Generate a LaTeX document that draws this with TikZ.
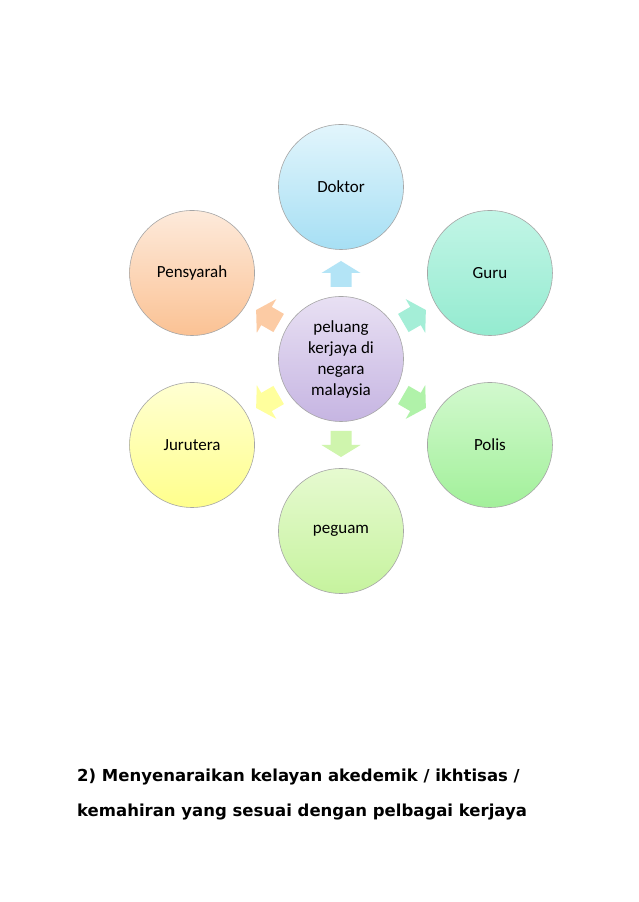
\documentclass[tikz,border=0pt]{standalone}
\usepackage{fontspec}
\setmainfont{Carlito}
\newfontfamily\headfont{DejaVu Sans}
\usetikzlibrary{calc}

% colours of the bubbles (top / bottom of the gradient)
\definecolor{doktorTop}{HTML}{E2F5FC}
\definecolor{doktorBot}{HTML}{A6DFF4}
\definecolor{guruTop}{HTML}{C2F5E6}
\definecolor{guruBot}{HTML}{94EBD0}
\definecolor{polisTop}{HTML}{D2F9CE}
\definecolor{polisBot}{HTML}{A2F09A}
\definecolor{peguamTop}{HTML}{E6FAD0}
\definecolor{peguamBot}{HTML}{C6F39E}
\definecolor{juruTop}{HTML}{FFFFD2}
\definecolor{juruBot}{HTML}{FFFF8C}
\definecolor{pensyTop}{HTML}{FDEADB}
\definecolor{pensyBot}{HTML}{FBC294}
\definecolor{hubTop}{HTML}{E8E0F3}
\definecolor{hubBot}{HTML}{C6B5E2}

\newcommand{\ringradius}{172}
\newcommand{\bubble}[6]{%
    % #1 name, #2 angle, #3 top colour, #4 bottom colour, #5 arrow colour, #6 text
    \node[careerbubble, top color=#3, bottom color=#4] (#1)
        at ($(hub)+(#2:\ringradius)$) {#6};%
    \begin{scope}[shift={(hub)}, rotate=#2]
        \fill[#5] (72,-10.5) -- (86,-10.5) -- (86,-19.5) -- (98,0)
            -- (86,19.5) -- (86,10.5) -- (72,10.5) -- cycle;
    \end{scope}%
}

\begin{document}
\begin{tikzpicture}[x=1pt, y=1pt,
    careerbubble/.style={circle, minimum size=125pt, inner sep=0pt,
        draw=black!35, line width=0.6pt, shading angle=0,
        font=\fontsize{17}{21}\selectfont, align=center},
    heading/.style={anchor=base west, inner sep=0pt,
        font=\headfont\bfseries\fontsize{16.5}{20}\selectfont}]

    \useasboundingbox (0,0) rectangle (638,902);
    \fill[white] (0,0) rectangle (638,902);

    % --- Centre ---
    \node[careerbubble, top color=hubTop, bottom color=hubBot] (hub) at (341,543)
        {peluang\\kerjaya di\\negara\\malaysia};

    % --- Careers round the centre ---
    \bubble{doktor}{90}{doktorTop}{doktorBot}{doktorBot!85}{Doktor}
    \bubble{guru}{30}{guruTop}{guruBot}{guruBot!85}{Guru}
    \bubble{polis}{-30}{polisTop}{polisBot}{polisBot!85}{Polis}
    \bubble{peguam}{-90}{peguamTop}{peguamBot}{peguamBot!85}{peguam}
    \bubble{jurutera}{210}{juruTop}{juruBot}{juruBot!85}{Jurutera}
    \bubble{pensyarah}{150}{pensyTop}{pensyBot}{pensyBot!85}{Pensyarah}

    % --- Heading under the diagram ---
    \node[heading] (line1) at (77,120) {2) Menyenaraikan kelayan akedemik / ikhtisas /};
    \node[heading] (line2) at (77,85) {kemahiran yang sesuai dengan pelbagai kerjaya};

\end{tikzpicture}
\end{document}
